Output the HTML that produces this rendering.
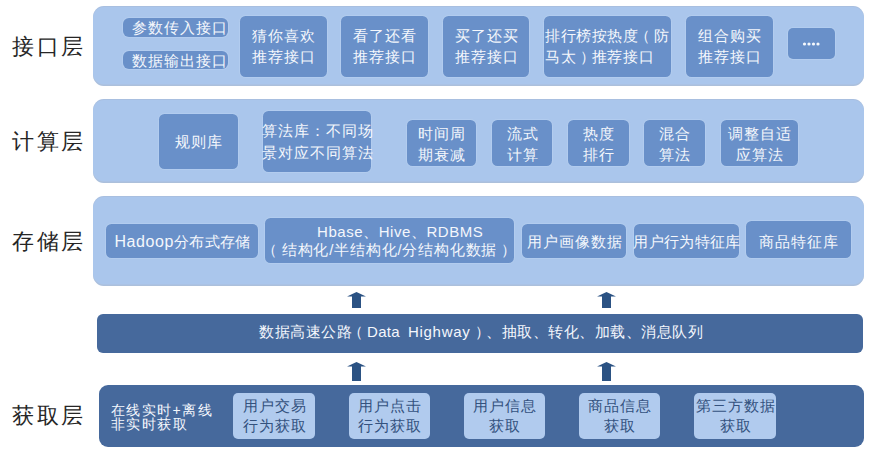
<!DOCTYPE html>
<html><head><meta charset="utf-8">
<style>
html,body{margin:0;padding:0;}
body{width:870px;height:460px;background:#fff;position:relative;overflow:hidden;font-family:"Liberation Sans",sans-serif;}
.a{position:absolute;white-space:nowrap;}
.lbl{position:absolute;left:12px;font-size:22px;color:#262626;letter-spacing:2.7px;line-height:24px;white-space:nowrap;}
.pan{position:absolute;background:#aac6ec;border-radius:11px;box-shadow:inset 0 1px 0 rgba(165,175,195,0.3),inset 0 -1.5px 0 rgba(175,185,200,0.45);}
.bx{position:absolute;box-sizing:border-box;background:#6990c9;box-shadow:0 0 1px 1px rgba(190,212,242,0.45);border-radius:5.5px;color:#f4f7fc;font-size:15px;line-height:21px;letter-spacing:1px;padding-left:1px;display:flex;align-items:center;justify-content:center;text-align:center;white-space:nowrap;}
.dk{position:absolute;background:#46699c;border-radius:8px;}
.lt{position:absolute;box-sizing:border-box;background:#b1cbee;border-radius:5px;color:#34527e;font-size:15px;line-height:20.5px;letter-spacing:1px;padding-left:1px;display:flex;align-items:center;justify-content:center;text-align:center;white-space:nowrap;}
.w{color:#f4f7fc;font-size:15px;}
.po{position:relative;left:-4px;}
.pc{position:relative;left:4px;}
svg{position:absolute;left:0;top:0;}
</style></head>
<body>
<!-- labels -->
<div class="lbl" style="top:34.8px">接口层</div>
<div class="lbl" style="top:130px">计算层</div>
<div class="lbl" style="top:229.6px">存储层</div>
<div class="lbl" style="top:404px">获取层</div>

<!-- panel 1 -->
<div class="pan" style="left:93px;top:6px;width:771px;height:79.5px"></div>
<div class="bx" style="left:123px;top:18px;width:105px;height:19px;border-radius:6px;justify-content:flex-end;padding-right:0px">参数传入接口</div>
<div class="bx" style="left:123px;top:51px;width:105px;height:18px;border-radius:6px;justify-content:flex-end;padding-right:0px">数据输出接口</div>
<div class="bx" style="left:240px;top:16px;width:87px;height:60.5px">猜你喜欢<br>推荐接口</div>
<div class="bx" style="left:341px;top:16px;width:87px;height:60.5px">看了还看<br>推荐接口</div>
<div class="bx" style="left:443px;top:16px;width:86px;height:60.5px">买了还买<br>推荐接口</div>
<div class="bx" style="left:544px;top:16px;width:127px;height:60.5px;justify-content:flex-start;text-align:left;padding-left:1px;letter-spacing:0.6px"><div>排行榜按热度<span class="po">（</span>防<br>马太<span class="pc">）</span>推荐接口</div></div>
<div class="bx" style="left:686px;top:16px;width:87px;height:60.5px">组合购买<br>推荐接口</div>
<div class="bx" style="left:788px;top:28px;width:47px;height:31px;border-radius:5px"></div>

<!-- panel 2 -->
<div class="pan" style="left:93px;top:99px;width:771px;height:84px"></div>
<div class="bx" style="left:159px;top:113.5px;width:79px;height:55px">规则库</div>
<div class="bx" style="left:263px;top:111px;width:108px;height:61px;line-height:22px;padding-top:1px">算法库：不同场<br>景对应不同算法</div>
<div class="bx" style="left:407px;top:120px;width:69px;height:46px;padding-top:2px">时间周<br>期衰减</div>
<div class="bx" style="left:492px;top:120px;width:60px;height:46px;padding-top:2px">流式<br>计算</div>
<div class="bx" style="left:568px;top:120px;width:61px;height:46px;padding-top:2px">热度<br>排行</div>
<div class="bx" style="left:644px;top:120px;width:61px;height:46px;padding-top:2px">混合<br>算法</div>
<div class="bx" style="left:721px;top:120px;width:77px;height:46px;padding-top:2px">调整自适<br>应算法</div>

<!-- panel 3 -->
<div class="pan" style="left:93px;top:196px;width:771px;height:90px"></div>
<div class="bx" style="left:106px;top:224px;width:152px;height:34px;letter-spacing:0.3px;padding-top:1px"><div><span style="font-size:16px;letter-spacing:0.6px">Hadoop</span>分布式存储</div></div>
<div class="bx" style="left:265px;top:218px;width:249px;height:45px"></div>
<div class="a w" style="left:317px;top:222px;line-height:19px;letter-spacing:0.55px">Hbase、Hive、RDBMS</div>
<div class="a w" style="left:266px;top:240px;line-height:19px;letter-spacing:0.8px"><span class="po">（</span>结构化/半结构化/分结构化数据<span class="pc" style="left:3.5px">）</span></div>
<div class="bx" style="left:522px;top:224px;width:104px;height:34px">用户画像数据</div>
<div class="bx" style="left:634px;top:224px;width:105px;height:34px;letter-spacing:0.3px">用户行为特征库</div>
<div class="bx" style="left:746px;top:221px;width:105px;height:37px;padding-top:3px">商品特征库</div>

<!-- highway -->
<div class="dk" style="left:97px;top:314px;width:766px;height:39px;border-radius:6px;"></div>
<div class="a w" style="left:259px;top:322px;line-height:20px;letter-spacing:0.5px">数据高速公路</div>
<div class="a w" style="left:348px;top:322px;line-height:20px">（</div>
<div class="a w" style="left:367px;top:322px;line-height:20px;letter-spacing:0.3px">Data</div>
<div class="a w" style="left:408px;top:322px;line-height:20px;letter-spacing:0.7px">Highway</div>
<div class="a w" style="left:474.5px;top:322px;line-height:20px">）</div>
<div class="a w" style="left:486px;top:322px;line-height:20px;letter-spacing:0.5px">、抽取、转化、加载、消息队列</div>

<!-- bottom panel -->
<div class="dk" style="left:99px;top:385px;width:765px;height:61.5px;border-radius:9px"></div>
<div class="a" style="left:111px;top:402.5px;color:#f4f7fc;font-size:14px;line-height:14.5px;letter-spacing:1.4px">在线实时+离线<br>非实时获取</div>
<div class="lt" style="left:233px;top:393px;width:82px;height:46px">用户交易<br>行为获取</div>
<div class="lt" style="left:349px;top:393px;width:81px;height:46px">用户点击<br>行为获取</div>
<div class="lt" style="left:464px;top:393px;width:81px;height:46px">用户信息<br>获取</div>
<div class="lt" style="left:579px;top:393px;width:81px;height:46px">商品信息<br>获取</div>
<div class="lt" style="left:694px;top:393px;width:82px;height:46px">第三方数据<br>获取</div>

<svg width="870" height="460" viewBox="0 0 870 460">
  <g fill="#f6f9fd"><circle cx="804.5" cy="44" r="1.6"/><circle cx="809" cy="44" r="1.6"/><circle cx="813.5" cy="44" r="1.6"/><circle cx="818" cy="44" r="1.6"/></g>
  <g fill="#2b5283">
    <path d="M356.5 292 L366 296.5 L361 296.5 L361 308 L352 308 L352 296.5 L347 296.5 Z"/>
    <path d="M606.5 292 L616 296.5 L611 296.5 L611 308 L602 308 L602 296.5 L597 296.5 Z"/>
    <path d="M356.5 362 L366 366.5 L361 366.5 L361 381 L352 381 L352 366.5 L347 366.5 Z"/>
    <path d="M606.5 362 L616 366.5 L611 366.5 L611 381 L602 381 L602 366.5 L597 366.5 Z"/>
  </g>
</svg>
</body></html>
